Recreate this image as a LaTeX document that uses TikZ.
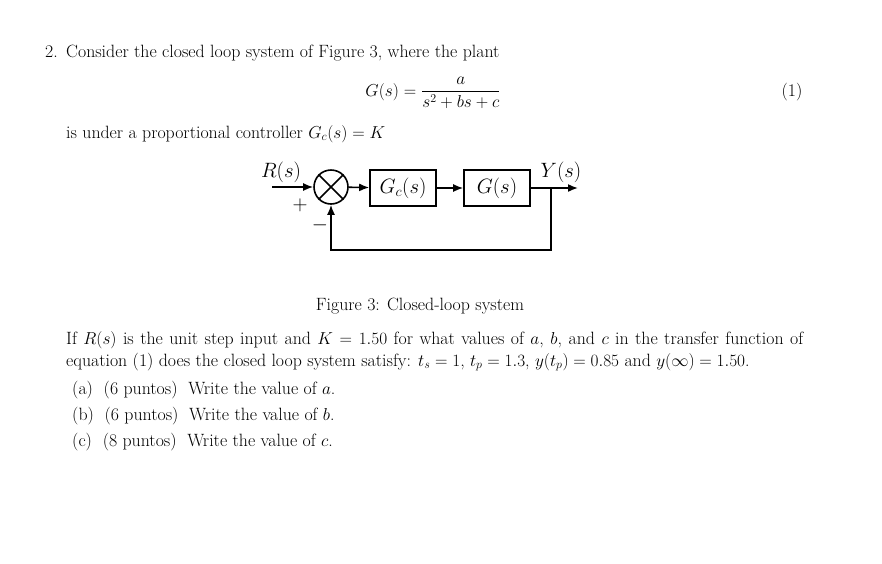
\documentclass[tikz,border=0pt]{standalone}
\usepackage{amsmath}
\usetikzlibrary{arrows.meta}
\begin{document}
\begin{tikzpicture}[x=1pt,y=-1pt,
  txt/.style={anchor=base west,inner sep=0pt,font=\fontsize{17.8}{22}\selectfont},
  blk/.style={draw,line width=1.6pt,minimum width=66pt,minimum height=36pt,inner sep=0pt,font=\fontsize{22}{26}\selectfont},
  sig/.style={line width=1.6pt,-{Latex[length=10pt,width=8pt]}},
  lbl/.style={inner sep=0pt,font=\fontsize{22}{26}\selectfont}]
\useasboundingbox (0,0) rectangle (882,563);
\node[txt] (n2) at (45,57) {2.};
\node[txt] (t1) at (66,57) {Consider the closed loop system of Figure 3, where the plant};
\node[txt,anchor=base] (eq) at (433,96) {$G(s) = \dfrac{a}{s^2+bs+c}$};
\node[txt,anchor=base] (eqn) at (792,96) {(1)};
\node[txt] (t2) at (66,138) {is under a proportional controller $G_c(s) = K$};
% diagram
\node[draw,circle,line width=1.6pt,minimum size=34pt,inner sep=0pt] (sum) at (331,187) {};
\draw[line width=1.6pt] (sum.45) -- (sum.225) (sum.135) -- (sum.315);
\node[blk] (gc) at (403,188) {$G_c(s)$};
\node[blk] (g) at (497,188) {$G(s)$};
\coordinate (in) at (272,187);
\coordinate (out) at (578,188);
\coordinate (br) at (551,188);
\coordinate (c1) at (551,250);
\coordinate (c2) at (331,250);
\draw[sig] (in) -- (sum);
\draw[sig] (sum) -- (gc);
\draw[sig] (gc) -- (g);
\draw[sig] (g) -- (out);
\draw[sig] (br) -- (c1) -- (c2) -- (sum);
\node[lbl] (r) at (281,172) {$R(s)$};
\node[lbl] (y) at (561,172) {$Y(s)$};
\node[lbl] (p) at (300,205) {$+$};
\node[lbl] (m) at (320,225) {$-$};
\node[txt,anchor=base] (cap) at (420,310) {Figure 3: Closed-loop system};
\node[txt,anchor=north west,text width=737pt,align=justify] (par) at (66,331)
 {If $R(s)$ is the unit step input and $K = 1.50$ for what values of $a$, $b$, and $c$ in the transfer function of equation (1) does the closed loop system satisfy: $t_s = 1$, $t_p = 1.3$, $y(t_p) = 0.85$ and $y(\infty) = 1.50$.};
\node[txt] (a) at (72,394) {(a)\ \ (6 puntos)\ \ Write the value of $a$.};
\node[txt] (b) at (72,420) {(b)\ \ (6 puntos)\ \ Write the value of $b$.};
\node[txt] (c) at (72,446) {(c)\ \ (8 puntos)\ \ Write the value of $c$.};
\end{tikzpicture}
\end{document}
